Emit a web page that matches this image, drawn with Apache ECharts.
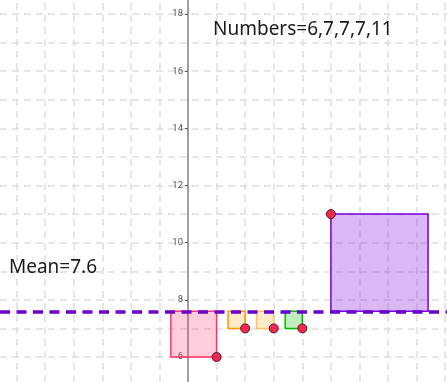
<!DOCTYPE html>
<html><head><meta charset="utf-8">
<script src="https://cdn.jsdelivr.net/npm/echarts@6/dist/echarts.min.js"></script>
<style>html,body{margin:0;padding:0;background:#fff}#c{width:447px;height:382px}</style>
</head><body><div id="c"></div>
<script>
const numbers = [6, 7, 7, 7, 11];
const positions = [1, 2, 3, 4, 5];
const meanValue = 7.6;
const yTicks = [6, 8, 10, 12, 14, 16, 18];
const xGridValues = [-6, -5, -4, -3, -2, -1, 1, 2, 3, 4, 5, 6, 7, 8, 9];
const yGridValues = [6, 7, 8, 9, 10, 11, 12, 13, 14, 15, 16, 17, 18];
const strokeColors = ['#ff3366', '#ff9900', '#ffc266', '#00bb00', '#7a00dd'];
const fillColors = ['rgba(255,51,102,0.25)', 'rgba(255,153,0,0.22)', 'rgba(255,178,60,0.28)', 'rgba(0,190,0,0.25)', 'rgba(122,0,221,0.28)'];
const titleText = 'Numbers=' + numbers.join(',');
const meanText = 'Mean=' + meanValue;

const X_MIN = -6.578, X_MAX = 9.062, Y_MIN = 5.125, Y_MAX = 18.491;

const chart = echarts.init(document.getElementById('c'), null, {renderer: 'canvas'});
const gridStyle = {color: '#dedede', width: 1.5, type: [7, 5]};
const squareData = numbers.map((v, i) => [positions[i], v, i]);
const hidden = {axisLine: {show: false}, axisTick: {show: false}, axisLabel: {show: false}, splitLine: {show: false}};
chart.setOption({
  animation: false,
  grid: [
    {left: 0, right: 0, top: 0, bottom: 0},
    {left: 188, width: 10, top: 0, bottom: 0}
  ],
  xAxis: [
    Object.assign({type: 'value', min: X_MIN, max: X_MAX, gridIndex: 0}, hidden),
    Object.assign({type: 'value', min: 0, max: 1, gridIndex: 1}, hidden)
  ],
  yAxis: [
    Object.assign({type: 'value', min: Y_MIN, max: Y_MAX, gridIndex: 0}, hidden),
    {
      type: 'value', min: Y_MIN, max: Y_MAX, gridIndex: 1, position: 'left', z: 1,
      axisLine: {show: true, onZero: false, lineStyle: {color: '#808080', width: 1.5}},
      axisTick: {show: true, length: 3, customValues: yTicks, lineStyle: {color: '#606060'}},
      axisLabel: {show: true, margin: 5, fontSize: 9.5, color: '#555', fontFamily: 'Roboto', customValues: yTicks},
      splitLine: {show: false}
    }
  ],
  series: [
    {
      type: 'line', z: 0, data: [], symbol: 'none',
      markLine: {
        z: 0, silent: true, symbol: 'none', label: {show: false}, lineStyle: gridStyle, animation: false,
        data: xGridValues.map(v => ({xAxis: v})).concat(yGridValues.map(v => ({yAxis: v})))
      }
    },
    {
      type: 'custom', z: 2,
      data: squareData,
      renderItem: function (params, api) {
        const x = api.value(0), v = api.value(1), idx = api.value(2);
        const d = v - meanValue;
        let x0, x1, y0, y1;
        if (d < 0) { x0 = x + d; x1 = x; y0 = v; y1 = meanValue; }
        else { x0 = x; x1 = x + d; y0 = meanValue; y1 = v; }
        const p0 = api.coord([x0, y1]);
        const p1 = api.coord([x1, y0]);
        return {
          type: 'rect',
          shape: {x: p0[0], y: p0[1], width: p1[0] - p0[0], height: p1[1] - p0[1]},
          style: {fill: fillColors[idx], stroke: strokeColors[idx], lineWidth: 1.5}
        };
      }
    },
    {
      type: 'line', z: 3, data: [], symbol: 'none',
      markLine: {
        z: 3, silent: true, symbol: 'none', label: {show: false},
        lineStyle: {color: '#6a00d0', width: 3.5, type: [10, 6.5]},
        data: [{yAxis: meanValue}]
      }
    },
    {
      type: 'scatter', z: 6,
      data: numbers.map((v, i) => [positions[i], v]),
      symbolSize: 9,
      itemStyle: {color: '#ee2a52', borderColor: '#5a1020', borderWidth: 1, opacity: 1}
    }
  ],
  graphic: [
    {type: 'text', left: 213, top: 20, z: 10, style: {text: titleText, font: '19px "Noto Sans"', fill: '#1a1a1a'}},
    {type: 'text', left: 9, top: 258, z: 10, style: {text: meanText, font: '19px "Noto Sans"', fill: '#1a1a1a'}}
  ]
});
</script></body></html>
